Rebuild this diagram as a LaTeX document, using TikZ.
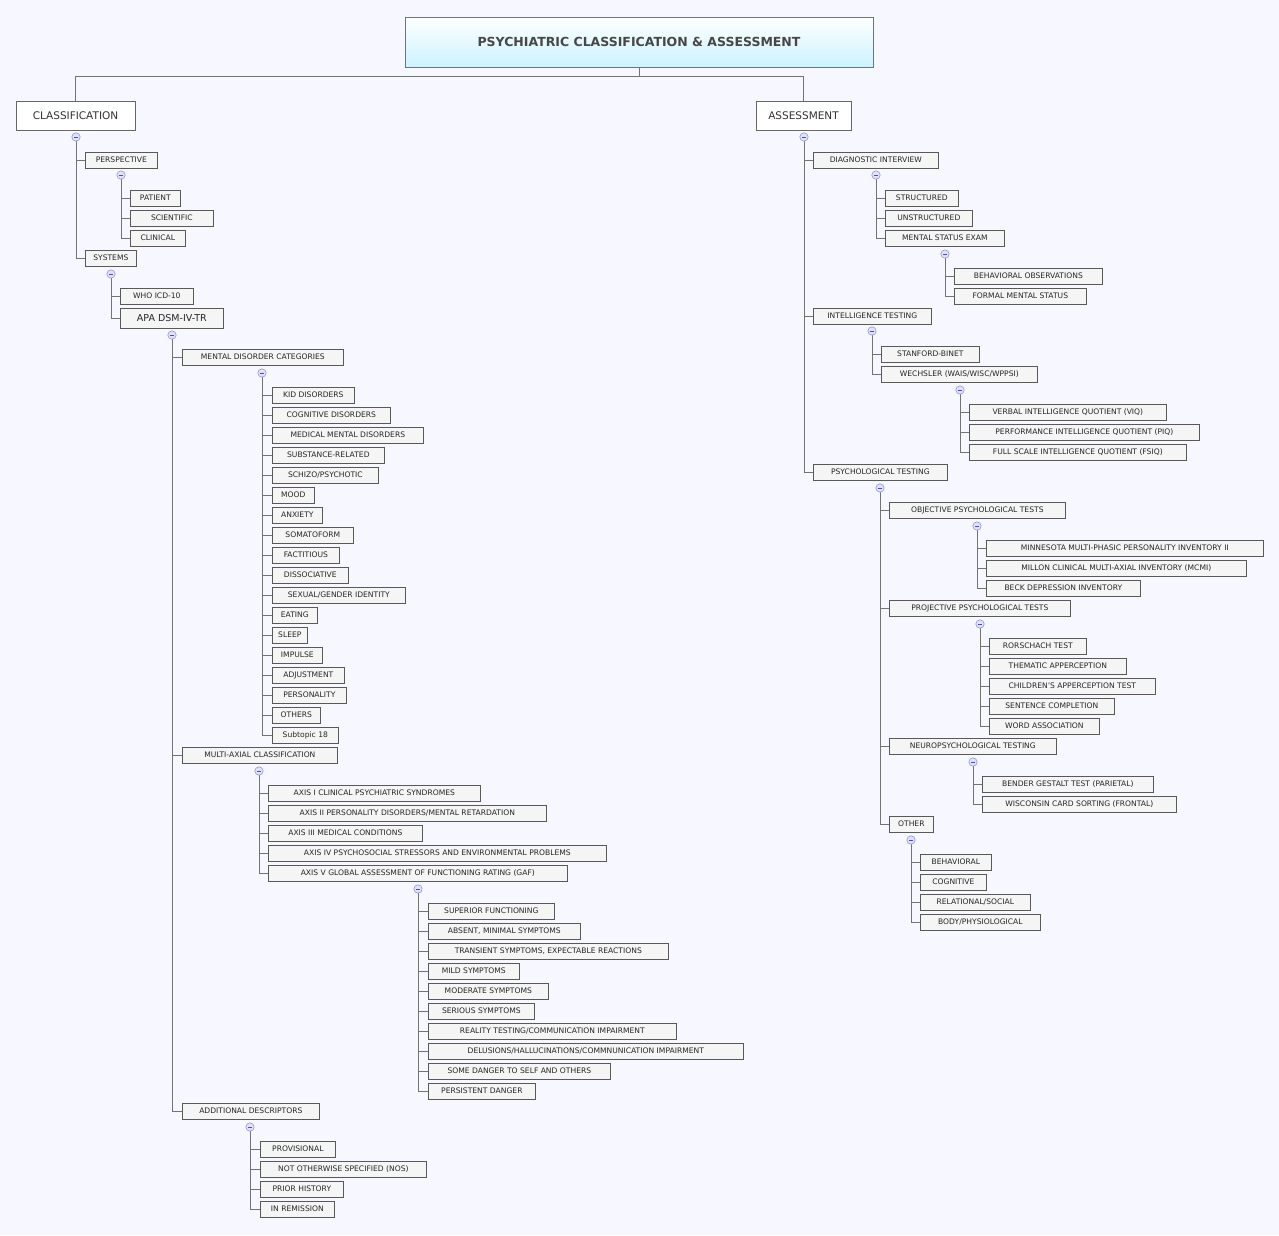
\documentclass[tikz,border=0pt]{standalone}
\usepackage{fontspec}
\setmainfont{DejaVu Sans}
\usetikzlibrary{calc}
\begin{document}
\begin{tikzpicture}[x=1pt,y=-1pt,
  bx/.style={draw=black!65,fill=white!96!black,line width=0.7pt,minimum height=16pt,inner sep=0pt,anchor=west,font=\fontsize{7.6}{9}\selectfont,text=black!85},
  conn/.style={draw=black!55,line width=0.8pt},
  top/.style={draw=black!60,fill=white,line width=0.8pt,minimum height=29pt,inner sep=0pt,font=\fontsize{10.5}{12}\selectfont,text=black!80}]
\useasboundingbox (0,0) rectangle (1279,1235);
\fill[black!4!blue!3] (0,0) rectangle (1279,1235);
\newcommand\bx[5]{\node[bx,minimum width={(#4-#2)*1pt}] (#1) at (#2,#3) {#5};}
\newcommand\grp[3]{\coordinate (#1) at (#2,#3);}
% title
\node[draw=black!55,line width=0.8pt,top color=white,bottom color=blue!25!cyan!20,minimum width=468pt,minimum height=50pt,inner sep=0pt,font=\bfseries\fontsize{12.5}{14}\selectfont,text=black!72] (title) at (639,42) {PSYCHIATRIC CLASSIFICATION \& ASSESSMENT};
\node[top,minimum width=119pt] (cls) at (75.5,115.5) {CLASSIFICATION};
\node[top,minimum width=95pt] (ass) at (803.5,115.5) {ASSESSMENT};
\coordinate (tj) at (639,76);
\draw[conn] (title.south) -- (tj) -| (cls.north);
\draw[conn] (tj) -| (ass.north);
% CLASSIFICATION
\grp{c1}{76}{137}
\bx{persp}{85}{160}{157}{PERSPECTIVE}
\bx{sys}{85}{258}{136}{SYSTEMS}
\grp{c2}{121}{175}
\bx{pat}{130}{198}{180}{PATIENT}
\bx{sci}{130}{218}{213}{SCIENTIFIC}
\bx{cli}{130}{238}{185}{CLINICAL}
\grp{c3}{111}{274}
\bx{who}{120}{296}{193}{WHO ICD-10}
\node[bx,minimum width=103pt,minimum height=20pt,font=\fontsize{9.5}{11}\selectfont] (apa) at (120,318) {APA DSM-IV-TR};
\grp{c4}{172}{335}
\bx{mdc}{182}{357}{343}{MENTAL DISORDER CATEGORIES}
\bx{mac}{182}{755}{337}{MULTI-AXIAL CLASSIFICATION}
\bx{add}{182}{1111}{319}{ADDITIONAL DESCRIPTORS}
\grp{c5}{262}{373}
\bx{m1}{272}{395}{354}{KID DISORDERS}
\bx{m2}{272}{415}{390}{COGNITIVE DISORDERS}
\bx{m3}{272}{435}{423}{MEDICAL MENTAL DISORDERS}
\bx{m4}{272}{455}{384}{SUBSTANCE-RELATED}
\bx{m5}{272}{475}{378}{SCHIZO/PSYCHOTIC}
\bx{m6}{272}{495}{314}{MOOD}
\bx{m7}{272}{515}{322}{ANXIETY}
\bx{m8}{272}{535}{353}{SOMATOFORM}
\bx{m9}{272}{555}{339}{FACTITIOUS}
\bx{m10}{272}{575}{348}{DISSOCIATIVE}
\bx{m11}{272}{595}{405}{SEXUAL/GENDER IDENTITY}
\bx{m12}{272}{615}{317}{EATING}
\bx{m13}{272}{635}{307}{SLEEP}
\bx{m14}{272}{655}{322}{IMPULSE}
\bx{m15}{272}{675}{344}{ADJUSTMENT}
\bx{m16}{272}{695}{346}{PERSONALITY}
\bx{m17}{272}{715}{320}{OTHERS}
\bx{m18}{272}{735}{338}{Subtopic 18}
\grp{c6}{259}{771}
\bx{a1}{268}{793}{480}{AXIS I CLINICAL PSYCHIATRIC SYNDROMES}
\bx{a2}{268}{813}{546}{AXIS II PERSONALITY DISORDERS/MENTAL RETARDATION}
\bx{a3}{268}{833}{422}{AXIS III MEDICAL CONDITIONS}
\bx{a4}{268}{853}{606}{AXIS IV PSYCHOSOCIAL STRESSORS AND ENVIRONMENTAL PROBLEMS}
\bx{a5}{268}{873}{567}{AXIS V GLOBAL ASSESSMENT OF FUNCTIONING RATING (GAF)}
\grp{c7}{418}{889}
\bx{g1}{428}{911}{554}{SUPERIOR FUNCTIONING}
\bx{g2}{428}{931}{580}{ABSENT, MINIMAL SYMPTOMS}
\bx{g3}{428}{951}{668}{TRANSIENT SYMPTOMS, EXPECTABLE REACTIONS}
\bx{g4}{428}{971}{519}{MILD SYMPTOMS}
\bx{g5}{428}{991}{548}{MODERATE SYMPTOMS}
\bx{g6}{428}{1011}{534}{SERIOUS SYMPTOMS}
\bx{g7}{428}{1031}{676}{REALITY TESTING/COMMUNICATION IMPAIRMENT}
\bx{g8}{428}{1051}{743}{DELUSIONS/HALLUCINATIONS/COMMNUNICATION IMPAIRMENT}
\bx{g9}{428}{1071}{610}{SOME DANGER TO SELF AND OTHERS}
\bx{g10}{428}{1091}{535}{PERSISTENT DANGER}
\grp{c8}{250}{1127}
\bx{d1}{260}{1149}{335}{PROVISIONAL}
\bx{d2}{260}{1169}{426}{NOT OTHERWISE SPECIFIED (NOS)}
\bx{d3}{260}{1189}{343}{PRIOR HISTORY}
\bx{d4}{260}{1209}{334}{IN REMISSION}
% ASSESSMENT
\grp{r1}{804}{137}
\bx{di}{813}{160}{938}{DIAGNOSTIC INTERVIEW}
\bx{it}{813}{316}{931}{INTELLIGENCE TESTING}
\bx{pt}{813}{472}{947}{PSYCHOLOGICAL TESTING}
\grp{r2}{876}{175}
\bx{di1}{885}{198}{958}{STRUCTURED}
\bx{di2}{885}{218}{972}{UNSTRUCTURED}
\bx{di3}{885}{238}{1004}{MENTAL STATUS EXAM}
\grp{r3}{945}{254}
\bx{ms1}{954}{276}{1102}{BEHAVIORAL OBSERVATIONS}
\bx{ms2}{954}{296}{1086}{FORMAL MENTAL STATUS}
\grp{r4}{872}{331}
\bx{it1}{881}{354}{979}{STANFORD-BINET}
\bx{it2}{881}{374}{1037}{WECHSLER (WAIS/WISC/WPPSI)}
\grp{r5}{960}{390}
\bx{w1}{969}{412}{1166}{VERBAL INTELLIGENCE QUOTIENT (VIQ)}
\bx{w2}{969}{432}{1199}{PERFORMANCE INTELLIGENCE QUOTIENT (PIQ)}
\bx{w3}{969}{452}{1186}{FULL SCALE INTELLIGENCE QUOTIENT (FSIQ)}
\grp{r6}{880}{488}
\bx{ob}{889}{510}{1065}{OBJECTIVE PSYCHOLOGICAL TESTS}
\bx{pj}{889}{608}{1070}{PROJECTIVE PSYCHOLOGICAL TESTS}
\bx{ne}{889}{746}{1056}{NEUROPSYCHOLOGICAL TESTING}
\bx{ot}{889}{824}{933}{OTHER}
\grp{r7}{977}{526}
\bx{ob1}{986}{548}{1263}{MINNESOTA MULTI-PHASIC PERSONALITY INVENTORY II}
\bx{ob2}{986}{568}{1246}{MILLON CLINICAL MULTI-AXIAL INVENTORY (MCMI)}
\bx{ob3}{986}{588}{1140}{BECK DEPRESSION INVENTORY}
\grp{r8}{980}{624}
\bx{pj1}{989}{646}{1086}{RORSCHACH TEST}
\bx{pj2}{989}{666}{1126}{THEMATIC APPERCEPTION}
\bx{pj3}{989}{686}{1155}{CHILDREN'S APPERCEPTION TEST}
\bx{pj4}{989}{706}{1114}{SENTENCE COMPLETION}
\bx{pj5}{989}{726}{1099}{WORD ASSOCIATION}
\grp{r9}{973}{762}
\bx{ne1}{982}{784}{1153}{BENDER GESTALT TEST (PARIETAL)}
\bx{ne2}{982}{804}{1176}{WISCONSIN CARD SORTING (FRONTAL)}
\grp{r10}{911}{840}
\bx{ot1}{920}{862}{991}{BEHAVIORAL}
\bx{ot2}{920}{882}{986}{COGNITIVE}
\bx{ot3}{920}{902}{1030}{RELATIONAL/SOCIAL}
\bx{ot4}{920}{922}{1040}{BODY/PHYSIOLOGICAL}
% connectors
\foreach \c/\k in {c1/persp,c1/sys,c2/pat,c2/sci,c2/cli,c3/who,c3/apa,c4/mdc,c4/mac,c4/add,
 c5/m1,c5/m2,c5/m3,c5/m4,c5/m5,c5/m6,c5/m7,c5/m8,c5/m9,c5/m10,c5/m11,c5/m12,c5/m13,c5/m14,c5/m15,c5/m16,c5/m17,c5/m18,
 c6/a1,c6/a2,c6/a3,c6/a4,c6/a5,c7/g1,c7/g2,c7/g3,c7/g4,c7/g5,c7/g6,c7/g7,c7/g8,c7/g9,c7/g10,
 c8/d1,c8/d2,c8/d3,c8/d4,r1/di,r1/it,r1/pt,r2/di1,r2/di2,r2/di3,r3/ms1,r3/ms2,r4/it1,r4/it2,r5/w1,r5/w2,r5/w3,
 r6/ob,r6/pj,r6/ne,r6/ot,r7/ob1,r7/ob2,r7/ob3,r8/pj1,r8/pj2,r8/pj3,r8/pj4,r8/pj5,r9/ne1,r9/ne2,r10/ot1,r10/ot2,r10/ot3,r10/ot4}
  \draw[conn] (\c) |- (\k.west);
\foreach \c in {c1,c2,c3,c4,c5,c6,c7,c8,r1,r2,r3,r4,r5,r6,r7,r8,r9,r10}{
  \fill[blue!12!white,draw=blue!35!gray!60,line width=0.6pt] (\c) circle (4.2);
  \draw[blue!40!gray,line width=0.6pt] ($(\c)+(-2.2,0)$) -- ($(\c)+(2.2,0)$);
}
\end{tikzpicture}
\end{document}
